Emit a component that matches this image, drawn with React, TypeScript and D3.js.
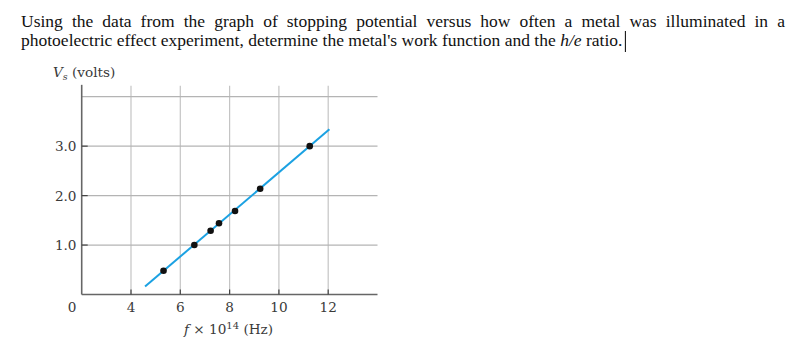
import { useEffect, useRef } from "react";
import * as d3 from "d3";

// question text, one entry per line
const questionLines = [
  "Using the data from the graph of stopping potential versus how often a metal was illuminated in a",
  "photoelectric effect experiment, determine the metal's work function and the h/e ratio.",
];

// measured points: frequency (x10^14 Hz) and stopping potential (V)
const freq = [5.32, 6.57, 7.23, 7.57, 8.22, 9.24, 11.25];
const volts = [0.48, 1.0, 1.29, 1.44, 1.69, 2.14, 3.0];

// best fit line end points
const fitFreq = [4.57, 12.05];
const fitVolts = [0.16, 3.34];

const xTicks = [4, 6, 8, 10, 12];
const yTicks = [1, 2, 3];
const xGrid = [4, 6, 8, 10, 12];
const yGrid = [1, 2, 3, 4];

const W = 799;
const H = 351;

const App = () => {
  const svgRef = useRef<SVGSVGElement>(null);

  useEffect(() => {
    const svg = d3.select(svgRef.current);
    svg.selectAll("*").remove();

    // ---- question text, justified line 1 ----
    const txt = svg
      .append("g")
      .style("font-family", "'Liberation Serif', 'Times New Roman', serif")
      .style("font-size", "17.5px")
      .attr("fill", "#111");
    const left = 21;
    const right = 785;
    const baselines = [27, 46];
    questionLines.forEach((ln, i) => {
      const words = ln.split(" ");
      const nodes = words.map((w) => {
        const t = txt.append("text").attr("y", baselines[i]);
        if (w === "h/e") {
          t.append("tspan").style("font-style", "italic").text("h/e");
        } else t.text(w);
        return t;
      });
      const widths = nodes.map((n) => (n.node() as SVGTextElement).getComputedTextLength());
      const total = d3.sum(widths);
      const gap = i === 0 ? (right - left - total) / (words.length - 1) : 4.4;
      let x = left;
      nodes.forEach((n, k) => {
        n.attr("x", x);
        x += widths[k] + gap;
      });
      if (i === 1) {
        // text cursor
        svg.append("line").attr("x1", x - gap + 3).attr("x2", x - gap + 3).attr("y1", 31).attr("y2", 52).attr("stroke", "#000").attr("stroke-width", 1);
      }
    });

    // ---- chart ----
    const xScale = d3.scaleLinear().domain([2, 14]).range([81.7, 377.5]);
    const yScale = d3.scaleLinear().domain([0, 4]).range([294.5, 96.7]);
    const g = svg.append("g");

    // grid
    g.selectAll(".vg")
      .data(xGrid)
      .join("line")
      .attr("x1", (d) => xScale(d))
      .attr("x2", (d) => xScale(d))
      .attr("y1", yScale(0))
      .attr("y2", yScale(4.22))
      .attr("stroke", "#c4c4c4")
      .attr("stroke-width", 1.2);
    g.selectAll(".hg")
      .data(yGrid)
      .join("line")
      .attr("x1", xScale(2))
      .attr("x2", xScale(14))
      .attr("y1", (d) => yScale(d))
      .attr("y2", (d) => yScale(d))
      .attr("stroke", "#b4b4b4")
      .attr("stroke-width", 1.2);

    // axes
    g.append("line")
      .attr("x1", xScale(2))
      .attr("x2", xScale(2))
      .attr("y1", yScale(0))
      .attr("y2", yScale(4.24))
      .attr("stroke", "#666")
      .attr("stroke-width", 1.6);
    g.append("line")
      .attr("x1", xScale(2))
      .attr("x2", xScale(14))
      .attr("y1", yScale(0))
      .attr("y2", yScale(0))
      .attr("stroke", "#666")
      .attr("stroke-width", 1.6);

    // tick marks
    g.selectAll(".xt")
      .data(xTicks)
      .join("line")
      .attr("x1", (d) => xScale(d))
      .attr("x2", (d) => xScale(d))
      .attr("y1", yScale(0))
      .attr("y2", yScale(0) - 5)
      .attr("stroke", "#444")
      .attr("stroke-width", 1.2);
    g.selectAll(".yt")
      .data(yTicks)
      .join("line")
      .attr("x1", xScale(2))
      .attr("x2", xScale(2) + 6)
      .attr("y1", (d) => yScale(d))
      .attr("y2", (d) => yScale(d))
      .attr("stroke", "#444")
      .attr("stroke-width", 1.2);

    // tick labels
    const lab = g
      .append("g")
      .style("font-family", "'DejaVu Serif', serif")
      .style("font-size", "13.6px")
      .attr("fill", "#3a3a3a");
    lab.selectAll(".xl")
      .data(xTicks)
      .join("text")
      .attr("x", (d) => xScale(d))
      .attr("y", 311.5)
      .attr("text-anchor", "middle")
      .text((d) => d);
    lab.append("text").attr("x", 72).attr("y", 311.5).attr("text-anchor", "middle").text("0");
    lab.selectAll(".yl")
      .data(yTicks)
      .join("text")
      .attr("x", 76.5)
      .attr("y", (d) => yScale(d) + 5)
      .attr("text-anchor", "end")
      .text((d) => d.toFixed(1));

    // axis titles
    const yt = lab.append("text").attr("x", 53).attr("y", 77);
    yt.append("tspan").style("font-style", "italic").text("V");
    yt.append("tspan").style("font-style", "italic").style("font-size", "9.5px").attr("dy", 3).text("s");
    yt.append("tspan").attr("dy", -3).text(" (volts)");

    const xt = lab.append("text").attr("x", 228.5).attr("y", 334).attr("text-anchor", "middle");
    xt.append("tspan").style("font-style", "italic").text("f");
    xt.append("tspan").text(" × 10");
    xt.append("tspan").style("font-size", "10px").attr("dy", -5).text("14");
    xt.append("tspan").attr("dy", 5).text(" (Hz)");

    // fit line
    const line = d3
      .line<number>()
      .x((d) => xScale(fitFreq[d]))
      .y((d) => yScale(fitVolts[d]));
    g.append("path")
      .attr("d", line([0, 1]))
      .attr("stroke", "#1ba1e2")
      .attr("stroke-width", 2)
      .attr("fill", "none");

    // points
    g.selectAll(".pt")
      .data(freq)
      .join("circle")
      .attr("cx", (d) => xScale(d))
      .attr("cy", (d, i) => yScale(volts[i]))
      .attr("r", 3.3)
      .attr("fill", "#111");
  }, []);

  return <svg ref={svgRef} width={W} height={H} style={{ position: "absolute", left: 0, top: 0, background: "#fff" }}></svg>;
};

export default App;
